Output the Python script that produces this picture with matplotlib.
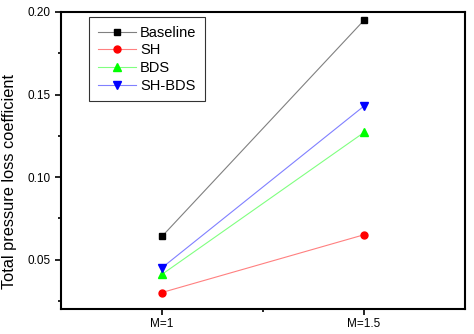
import matplotlib
matplotlib.use("Agg")
import matplotlib.pyplot as plt
from matplotlib.ticker import MultipleLocator, FixedLocator

plt.rcParams['font.family'] = ['Liberation Sans', 'DejaVu Sans']

categories = ["M=1", "M=1.5"]
baseline = [0.064, 0.195]
sh = [0.030, 0.065]
bds = [0.041, 0.127]
sh_bds = [0.045, 0.143]

x = [1, 2]
fig = plt.figure(figsize=(4.74, 3.34), dpi=100)
ax = fig.add_axes([61/474, 1 - 309/334, (465-61)/474, (309-12)/334])

ax.plot(x, baseline, color='#808080', lw=0.8, marker='s', mfc='black', mec='black', ms=4.5, label='Baseline')
ax.plot(x, sh, color='#ff8080', lw=0.8, marker='o', mfc='red', mec='red', ms=5, label='SH')
ax.plot(x, bds, color='#80ff80', lw=0.8, marker='^', mfc='#00ff00', mec='#00ff00', ms=5.5, label='BDS')
ax.plot(x, sh_bds, color='#8080ff', lw=0.8, marker='v', mfc='blue', mec='blue', ms=5.5, label='SH-BDS')

ax.set_xlim(0.5, 2.5)
ax.set_ylim(0.02, 0.20)
ax.set_xticks(x)
ax.set_xticklabels(categories)
ax.xaxis.set_minor_locator(FixedLocator([1.5]))
ax.yaxis.set_major_locator(MultipleLocator(0.05))
ax.yaxis.set_minor_locator(MultipleLocator(0.025))
ax.yaxis.set_major_formatter(plt.FuncFormatter(lambda v, p: f"{v:.2f}"))
ax.tick_params(axis='both', which='major', direction='out', length=4.5, width=1.2, labelsize=8.5)
ax.tick_params(axis='y', which='major', pad=3)
ax.tick_params(axis='x', which='major', pad=2)
ax.tick_params(axis='both', which='minor', direction='out', length=2.5, width=1.2)
ax.tick_params(top=False, right=False)
for s in ax.spines.values():
    s.set_linewidth(1.5)
ax.set_ylabel("Total pressure loss coefficient", fontsize=11.8)
ax.yaxis.set_label_coords(-0.108, 0.43)

leg = ax.legend(loc='upper left', bbox_to_anchor=(89/474, 1 - 17/334), bbox_transform=fig.transFigure,
                fontsize=10.5, frameon=True,
                fancybox=False, edgecolor='black', handlelength=2.6, handletextpad=0.3,
                labelspacing=0.25, borderpad=0.6, borderaxespad=0)
leg.get_frame().set_linewidth(0.8)

fig.savefig("out.png", dpi=100)
